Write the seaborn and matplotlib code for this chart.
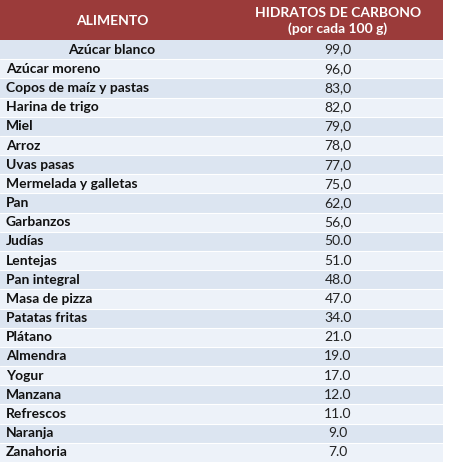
import matplotlib
matplotlib.use("Agg")
import matplotlib.pyplot as plt
import seaborn as sns

sns.set_theme(style="white")
plt.rcParams['font.family'] = ['Lato', 'DejaVu Sans']

alimentos = ["Azúcar blanco", "Azúcar moreno", "Copos de maíz y pastas", "Harina de trigo",
             "Miel", "Arroz", "Uvas pasas", "Mermelada y galletas", "Pan", "Garbanzos",
             "Judías", "Lentejas", "Pan integral", "Masa de pizza", "Patatas fritas",
             "Plátano", "Almendra", "Yogur", "Manzana", "Refrescos", "Naranja", "Zanahoria"]
valores = ["99,0", "96,0", "83,0", "82,0", "79,0", "78,0", "77,0", "75,0", "62,0", "56,0",
           "50.0", "51.0", "48.0", "47.0", "34.0", "21.0", "19.0", "17.0", "12.0", "11.0",
           "9.0", "7.0"]
encabezados = ["ALIMENTO", "HIDRATOS DE CARBONO\n(por cada 100 g)"]

fig = plt.figure(figsize=(4.5, 4.72), dpi=100)
ax = fig.add_axes([0, 0, 1, 1])
ax.set_xlim(0, 450)
ax.set_ylim(472, 0)
ax.axis("off")

x0, x1 = 0, 443
top, hh = 0, 40
rh = (462 - 40) / len(alimentos)
ax.fill_between([x0, x1], top, top + hh, color="#9B3B3A", lw=0)
ax.text(112, hh / 2 + 1, encabezados[0], color="white", fontsize=10, fontweight="bold",
        ha="center", va="center")
ax.text(338, hh / 2 + 1, encabezados[1], color="white", fontsize=10, fontweight="bold",
        ha="center", va="center", linespacing=1.3)

for i, (a, v) in enumerate(zip(alimentos, valores)):
    y = hh + i * rh
    col = "#DCE5F1" if i % 2 == 0 else "#EDF2F9"
    ax.fill_between([x0, x1], y, y + rh, color=col, lw=0)
    ax.plot([x0, x1], [y + rh, y + rh], color="white", lw=0.8)
    if i == 0:
        ax.text(112, y + rh / 2, a, fontsize=10, fontweight="bold", ha="center", va="center", color="#111111")
    else:
        ax.text(6, y + rh / 2, a, fontsize=10, fontweight="bold", ha="left", va="center", color="#111111")
    ax.text(338, y + rh / 2, v, fontsize=10, ha="center", va="center", color="#222222")

fig.savefig("out.png", dpi=100, facecolor="white")
